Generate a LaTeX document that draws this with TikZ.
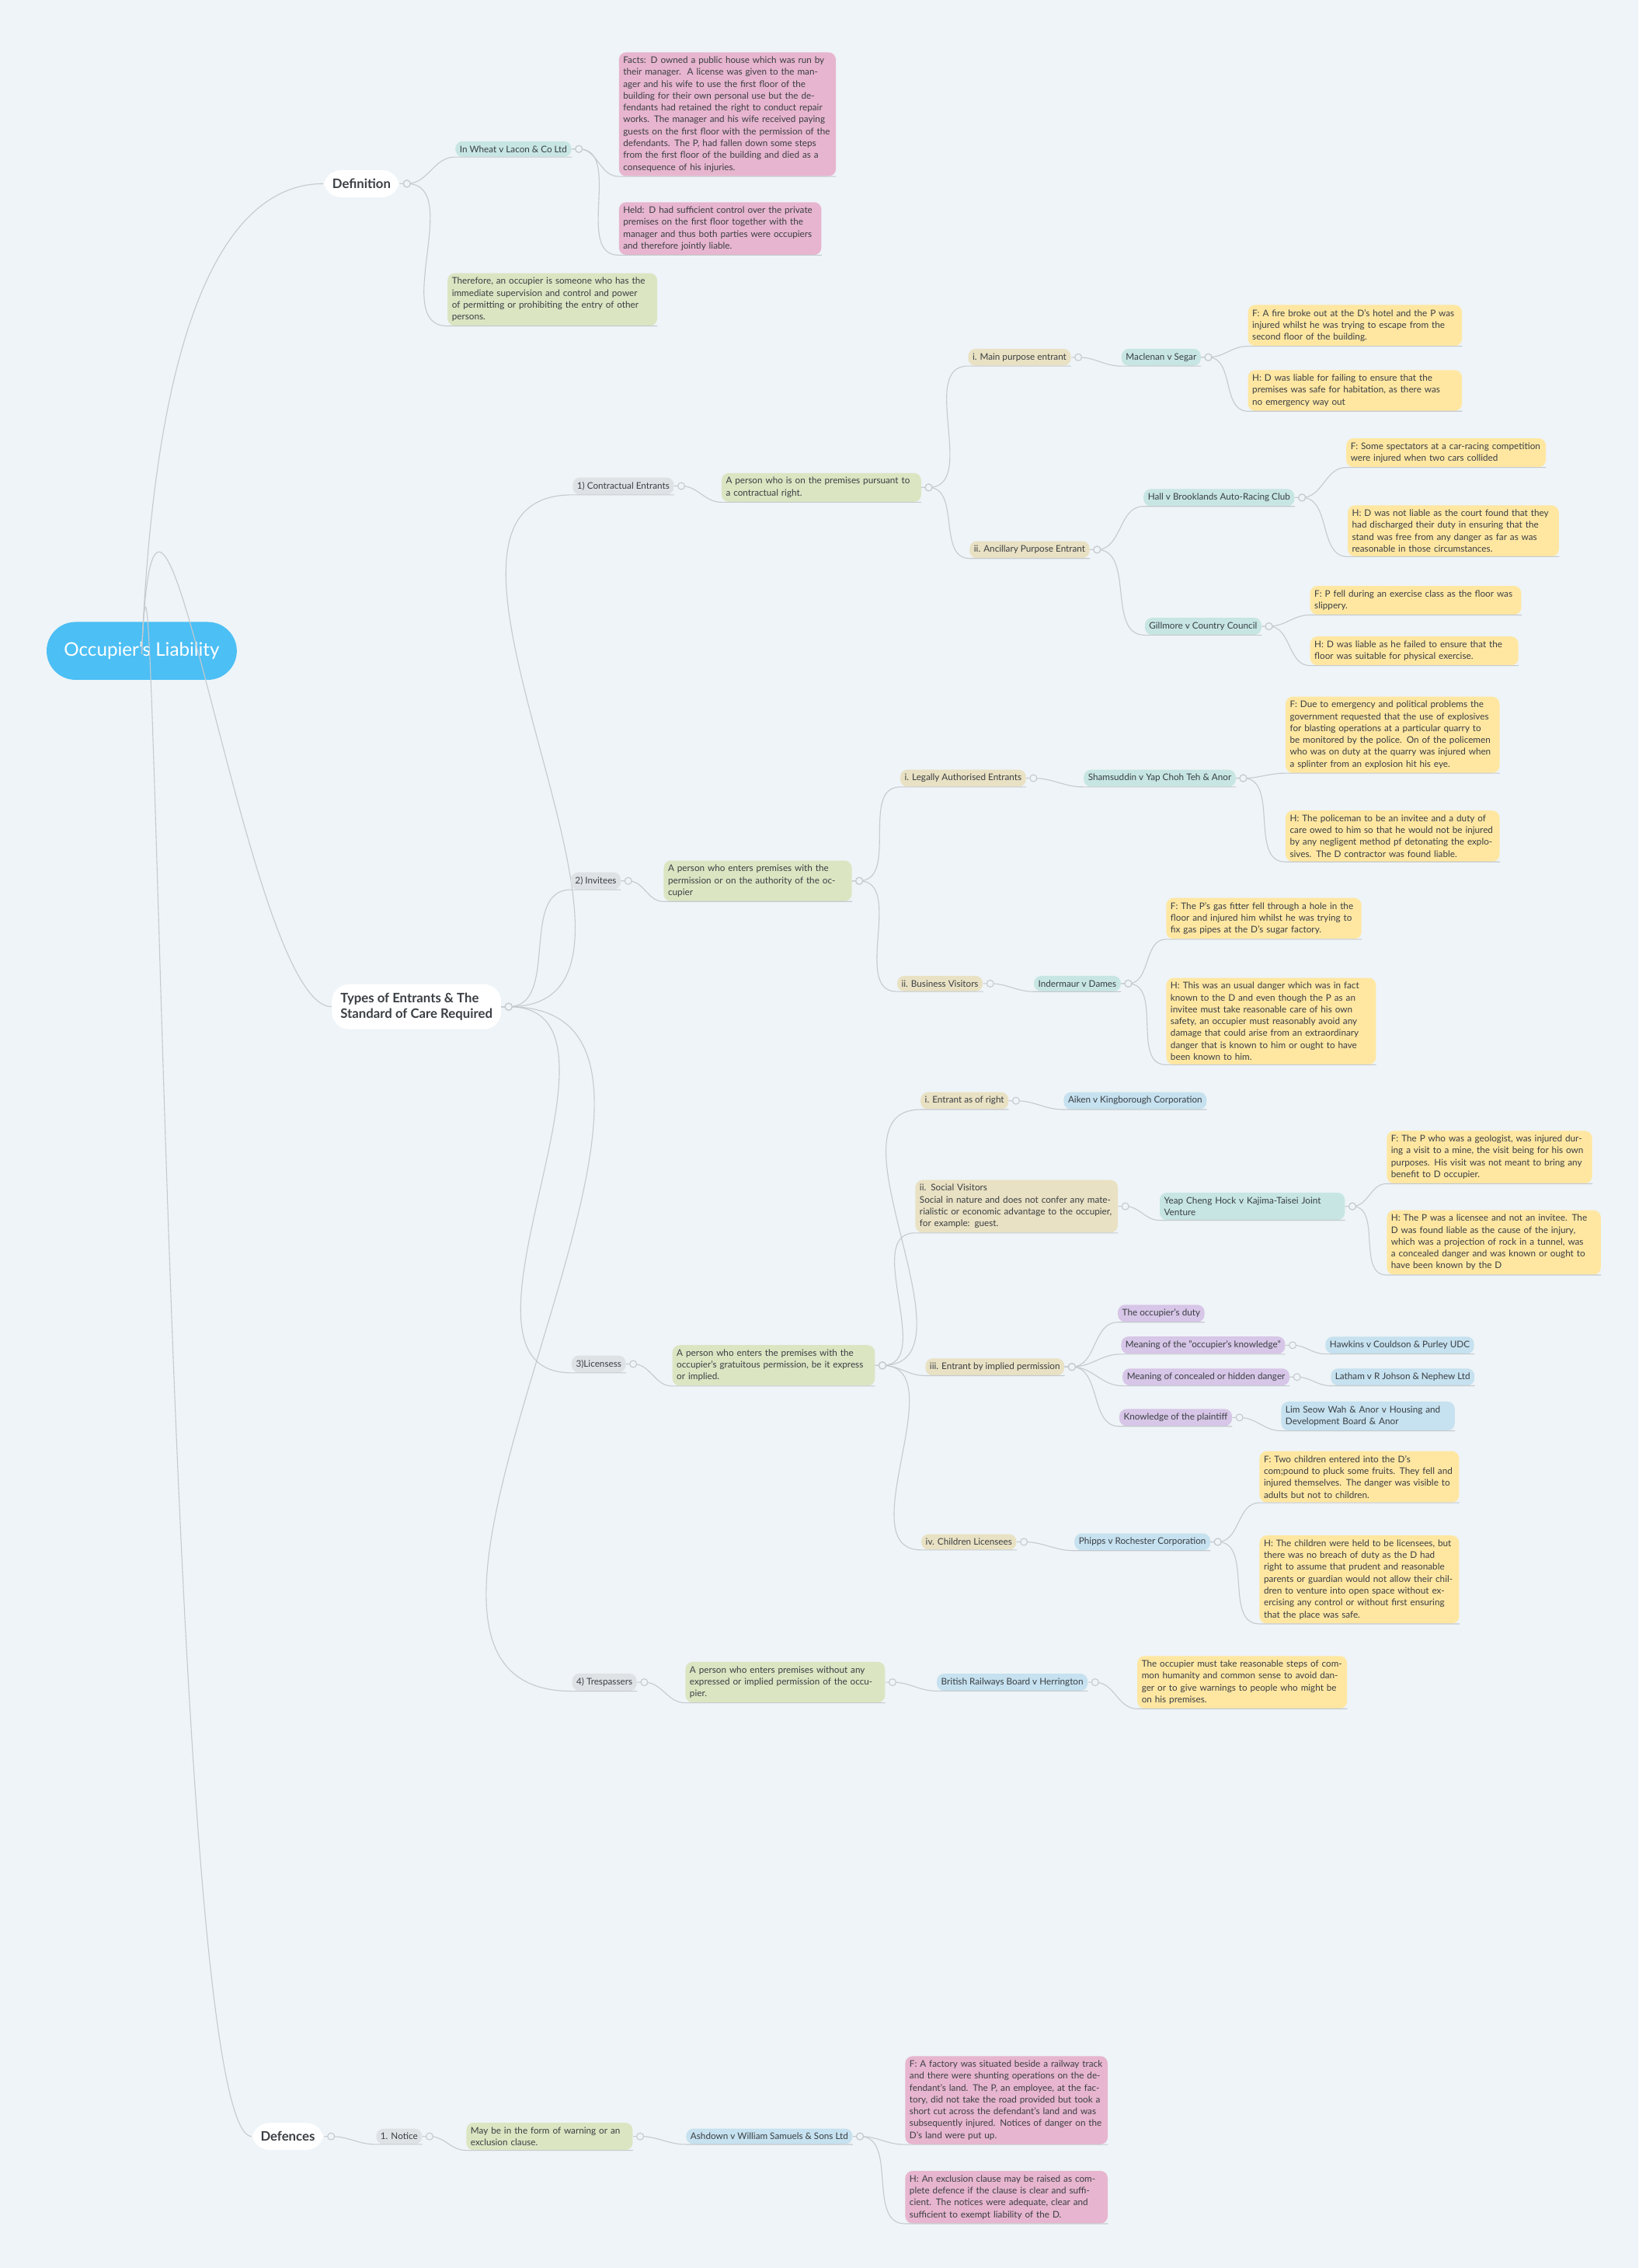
\documentclass[tikz,border=0pt]{standalone}
\usepackage{fontspec}
\setmainfont{Lato}
\definecolor{bg}{HTML}{EEF4F7}
\definecolor{rootc}{HTML}{4CBFF5}
\definecolor{grayc}{HTML}{DFE2E5}
\definecolor{greenc}{HTML}{DCE5C2}
\definecolor{tanc}{HTML}{E9E1C3}
\definecolor{tealc}{HTML}{C7E6E3}
\definecolor{yelc}{HTML}{FFE7A2}
\definecolor{pinkc}{HTML}{E7B5CF}
\definecolor{purc}{HTML}{D7C6E7}
\definecolor{bluec}{HTML}{C6E1EF}
\definecolor{linec}{HTML}{C5CACE}
\definecolor{txt}{HTML}{3A3F44}
\tikzset{
 bx/.style={rounded corners=5pt, inner sep=3pt, text=txt, font=\fontsize{6.3}{8.2}\selectfont, align=left},
 g/.style={bx, fill=grayc},
 gr/.style={bx, fill=greenc},
 tn/.style={bx, fill=tanc},
 tl/.style={bx, fill=tealc},
 yl/.style={bx, fill=yelc},
 pk/.style={bx, fill=pinkc},
 pu/.style={bx, fill=purc},
 bl/.style={bx, fill=bluec},
 lv/.style={rounded corners=12pt, fill=white, inner sep=6pt, text=txt, font=\fontsize{9}{11}\selectfont\bfseries, align=left},
 cn/.style={draw=linec, line width=0.6pt},
}
\newcommand{\cc}[2]{\draw[cn] (#1.east) ++(5,0) coordinate (t) (#1.east) -- (t) to[out=0,in=180] (#2.south west) -- (#2.south east); \draw[linec,fill=bg,line width=0.6pt] (t) circle (2.4);}
\begin{document}
\begin{tikzpicture}[x=1pt,y=-1pt]
\fill[bg] (0,0) rectangle (1133,1568);
\useasboundingbox (0,0) rectangle (1133,1568);
\node[rounded corners=20pt, fill=rootc, text=white, font=\fontsize{13}{15}\selectfont, minimum height=40, inner xsep=12pt] (root) at (98,450) {Occupier's Liability};
\node[lv] (def) at (250,127) {Definition};
\node[lv] (typ) at (288,696) {Types of Entrants \& The\\Standard of Care Required};
\node[lv] (dfs) at (199,1477) {Defences};
\foreach \n in {def,typ,dfs}{\draw[cn] (root.south) ++(0,-18) .. controls +(10,-250) and +(-60,0) .. (\n.west);}

% Definition
\node[tl] (d1) at (355,103) {In Wheat v Lacon \& Co Ltd};
\node[pk,text width=144] (d1a) at (503,79) {Facts: D owned a public house which was run by their manager.\ \ A license was given to the manager and his wife to use the first floor of the building for their own personal use but the defendants had retained the right to conduct repair works. The manager and his wife received paying guests on the first floor with the permission of the defendants. The P, had fallen down some steps from the first floor of the building and died as a consequence of his injuries.};
\node[pk,text width=134] (d1b) at (498,158) {Held: D had sufficient control over the private premises on the first floor together with the manager and thus both parties were occupiers and therefore jointly liable.};
\node[gr,text width=139] (d2) at (382,207) {Therefore, an occupier is someone who has the immediate supervision and control and power of permitting or prohibiting the entry of other persons.};
\cc{def}{d1}\cc{def}{d2}\cc{d1}{d1a}\cc{d1}{d1b}

% Contractual
\node[g] (c1) at (431,336) {1) Contractual Entrants};
\node[gr,text width=132] (c1a) at (568,337) {A person who is on the premises pursuant to a contractual right.};
\node[tn] (m1) at (705,247) {i. Main purpose entrant};
\node[tl] (ms) at (803,247) {Maclenan v Segar};
\node[yl,text width=142] (msf) at (937,225) {F: A fire broke out at the D's hotel and the P was injured whilst he was trying to escape from the second floor of the building.};
\node[yl,text width=142] (msh) at (937,270) {H: D was liable for failing to ensure that the premises was safe for habitation, as there was no emergency way out};
\node[tn] (m2) at (712,380) {ii. Ancillary Purpose Entrant};
\node[tl] (hb) at (843,344) {Hall v Brooklands Auto-Racing Club};
\node[yl,text width=132] (hbf) at (1000,313) {F: Some spectators at a car-racing competition were injured when two cars collided};
\node[yl,text width=140] (hbh) at (1005,367) {H: D was not liable as the court found that they had discharged their duty in ensuring that the stand was free from any danger as far as was reasonable in those circumstances.};
\node[tl] (gc) at (832,433) {Gillmore v Country Council};
\node[yl,text width=140] (gcf) at (979,415) {F: P fell during an exercise class as the floor was slippery.};
\node[yl,text width=138] (gch) at (978,450) {H: D was liable as he failed to ensure that the floor was suitable for physical exercise.};
\cc{typ}{c1}\cc{c1}{c1a}\cc{c1a}{m1}\cc{c1a}{m2}\cc{m1}{ms}\cc{ms}{msf}\cc{ms}{msh}
\cc{m2}{hb}\cc{m2}{gc}\cc{hb}{hbf}\cc{hb}{hbh}\cc{gc}{gcf}\cc{gc}{gch}

% Invitees
\node[g] (c2) at (412,609) {2) Invitees};
\node[gr,text width=124] (c2a) at (524,609) {A person who enters premises with the permission or on the authority of the occupier};
\node[tn] (la) at (666,538) {i. Legally Authorised Entrants};
\node[tl] (sh) at (802,538) {Shamsuddin v Yap Choh Teh \& Anor};
\node[yl,text width=142] (shf) at (963,508) {F: Due to emergency and political problems the government requested that the use of explosives for blasting operations at a particular quarry to be monitored by the police. On of the policemen who was on duty at the quarry was injured when a splinter from an explosion hit his eye.};
\node[yl,text width=142] (shh) at (963,578) {H: The policeman to be an invitee and a duty of care owed to him so that he would not be injured by any negligent method pf detonating the explosives. The D contractor was found liable.};
\node[tn] (bv) at (650,680) {ii. Business Visitors};
\node[tl] (id) at (745,680) {Indermaur v Dames};
\node[yl,text width=129] (idf) at (874,635) {F: The P's gas fitter fell through a hole in the floor and injured him whilst he was trying to fix gas pipes at the D's sugar factory.};
\node[yl,text width=139] (idh) at (879,706) {H: This was an usual danger which was in fact known to the D and even though the P as an invitee must take reasonable care of his own safety, an occupier must reasonably avoid any damage that could arise from an extraordinary danger that is known to him or ought to have been known to him.};
\cc{typ}{c2}\cc{c2}{c2a}\cc{c2a}{la}\cc{c2a}{bv}\cc{la}{sh}\cc{sh}{shf}\cc{sh}{shh}\cc{bv}{id}\cc{id}{idf}\cc{id}{idh}

% Licensees
\node[g] (c3) at (414,943) {3)Licensess};
\node[gr,text width=134] (c3a) at (535,944) {A person who enters the premises with the occupier's gratuitous permission, be it express or implied.};
\node[tn] (er) at (667,761) {i. Entrant as of right};
\node[bl] (ak) at (785,761) {Aiken v Kingborough Corporation};
\node[tn,text width=134] (sv) at (703,834) {ii. Social Visitors\\Social in nature and does not confer any materialistic or economic advantage to the occupier, for example: guest.};
\node[tl,text width=122] (yc) at (866,834) {Yeap Cheng Hock v Kajima-Taisei Joint Venture};
\node[yl,text width=136] (ycf) at (1030,800) {F: The P who was a geologist, was injured during a visit to a mine, the visit being for his own purposes. His visit was not meant to bring any benefit to D occupier.};
\node[yl,text width=142] (ych) at (1033,859) {H: The P was a licensee and not an invitee. The D was found liable as the cause of the injury, which was a projection of rock in a tunnel, was a concealed danger and was known or ought to have been known by the D};
\node[tn] (ip) at (688,945) {iii. Entrant by implied permission};
\node[pu] (p1) at (803,908) {The occupier's duty};
\node[pu] (p2) at (832,930) {Meaning of the "occupier's knowledge"};
\node[bl] (hw) at (968,930) {Hawkins v Couldson \& Purley UDC};
\node[pu] (p3) at (834,952) {Meaning of concealed or hidden danger};
\node[bl] (lt) at (970,952) {Latham v R Johson \& Nephew Ltd};
\node[pu] (p4) at (813,980) {Knowledge of the plaintiff};
\node[bl,text width=114] (lm) at (946,979) {Lim Seow Wah \& Anor v Housing and Development Board \& Anor};
\node[tn] (cl) at (670,1066) {iv. Children Licensees};
\node[bl] (ph) at (790,1066) {Phipps v Rochester Corporation};
\node[yl,text width=132] (phf) at (940,1021) {F: Two children entered into the D's com;pound to pluck some fruits. They fell and injured themselves. The danger was visible to adults but not to children.};
\node[yl,text width=132] (phh) at (940,1092) {H: The children were held to be licensees, but there was no breach of duty as the D had right to assume that prudent and reasonable parents or guardian would not allow their children to venture into open space without exercising any control or without first ensuring that the place was safe.};
\cc{typ}{c3}\cc{c3}{c3a}\cc{c3a}{er}\cc{c3a}{sv}\cc{c3a}{ip}\cc{c3a}{cl}\cc{er}{ak}\cc{sv}{yc}\cc{yc}{ycf}\cc{yc}{ych}
\cc{ip}{p1}\cc{ip}{p2}\cc{ip}{p3}\cc{ip}{p4}\cc{p2}{hw}\cc{p3}{lt}\cc{p4}{lm}\cc{cl}{ph}\cc{ph}{phf}\cc{ph}{phh}

% Trespassers
\node[g] (c4) at (418,1163) {4) Trespassers};
\node[gr,text width=132] (c4a) at (543,1163) {A person who enters premises without any expressed or implied permission of the occupier.};
\node[bl] (br) at (700,1163) {British Railways Board v Herrington};
\node[yl,text width=139] (brh) at (859,1163) {The occupier must take reasonable steps of common humanity and common sense to avoid danger or to give warnings to people who might be on his premises.};
\cc{typ}{c4}\cc{c4}{c4a}\cc{c4a}{br}\cc{br}{brh}

% Defences
\node[g] (n1) at (276,1477) {1. Notice};
\node[gr,text width=109] (n1a) at (380,1477) {May be in the form of warning or an exclusion clause.};
\node[bl] (as) at (532,1477) {Ashdown v William Samuels \& Sons Ltd};
\node[pk,text width=134] (asf) at (696,1452) {F: A factory was situated beside a railway track and there were shunting operations on the defendant's land. The P, an employee, at the factory, did not take the road provided but took a short cut across the defendant's land and was subsequently injured. Notices of danger on the D's land were put up.};
\node[pk,text width=134] (ash) at (696,1519) {H: An exclusion clause may be raised as complete defence if the clause is clear and sufficient. The notices were adequate, clear and sufficient to exempt liability of the D.};
\cc{dfs}{n1}\cc{n1}{n1a}\cc{n1a}{as}\cc{as}{asf}\cc{as}{ash}
\end{tikzpicture}
\end{document}
